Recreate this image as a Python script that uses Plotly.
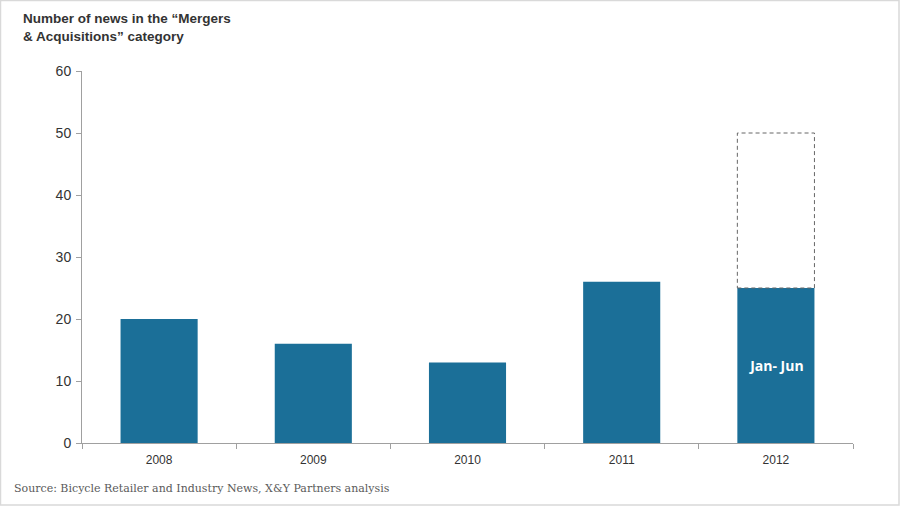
import plotly.graph_objects as go

years = ["2008", "2009", "2010", "2011", "2012"]
news_counts = [20, 16, 13, 26, 25]
bar_labels = ["", "", "", "", "Jan- Jun"]
projected_year = "2012"
projected_total = 50

title_text = "Number of news in the \u201cMergers<br>& Acquisitions\u201d category"
source_text = "Source: Bicycle Retailer and Industry News, X&Y Partners analysis"

BAR_COLOR = "#1B6F98"
W, H = 900, 506
ML, MR, MT, MB = 82, 47, 71, 63
PW, PH = W - ML - MR, H - MT - MB
BAR_WIDTH = 0.5

fig = go.Figure()
fig.add_trace(go.Bar(
    x=years, y=news_counts, width=BAR_WIDTH,
    marker=dict(color=BAR_COLOR, line=dict(width=0)),
    text=bar_labels, textposition="inside", insidetextanchor="middle",
    textfont=dict(family="Open Sans", size=14, color="white", weight="bold"),
    hoverinfo="x+y", showlegend=False,
))

idx = years.index(projected_year)
fig.add_shape(
    type="rect", xref="x", yref="y",
    x0=idx - BAR_WIDTH / 2, x1=idx + BAR_WIDTH / 2,
    y0=news_counts[idx], y1=projected_total,
    line=dict(color="#666666", width=1, dash="4px,3px"),
    fillcolor="rgba(0,0,0,0)", layer="above",
)

# light figure border
fig.add_shape(
    type="rect", xref="paper", yref="paper",
    x0=-(ML - 0.5) / PW, x1=(W - ML - 1) / PW,
    y0=-(MB - 1) / PH, y1=(H - MB - 0.5) / PH,
    line=dict(color="#D9D9D9", width=1.5), fillcolor="rgba(0,0,0,0)",
)

fig.update_layout(
    width=W, height=H,
    margin=dict(l=ML, r=MR, t=MT, b=MB),
    paper_bgcolor="white", plot_bgcolor="white",
    bargap=0.5,
    annotations=[
        dict(
            text=title_text, xref="paper", yref="paper",
            x=-(ML - 21) / PW, y=(H - MB - 9) / PH,
            xanchor="left", yanchor="top", align="left", showarrow=False,
            font=dict(family="Arial", size=13.5, color="#333333", weight="bold"),
        ),
        dict(
            text=source_text, xref="paper", yref="paper",
            x=-(ML - 12) / PW, y=-(497 - 443) / PH,
            xanchor="left", yanchor="bottom", showarrow=False,
            font=dict(family="DejaVu Serif", size=11, color="#5A5A5A"),
        ),
    ],
    xaxis=dict(
        type="category", showgrid=False, zeroline=False,
        showline=True, linecolor="#A0A0A0", linewidth=1,
        ticks="outside", tickson="boundaries", ticklen=5, tickcolor="#A0A0A0",
        ticklabelstandoff=6,
        tickfont=dict(family="Arial", size=12, color="#333333"),
    ),
    yaxis=dict(
        range=[0, 60], dtick=10, showgrid=False, zeroline=False,
        showline=True, linecolor="#A0A0A0", linewidth=1,
        ticks="outside", ticklen=5, tickcolor="#A0A0A0",
        ticklabelstandoff=2,
        tickfont=dict(family="Arial", size=14, color="#333333"),
    ),
)

fig.write_html("out.html", config={"displayModeBar": False},
               post_script="document.body.style.margin='0';")
